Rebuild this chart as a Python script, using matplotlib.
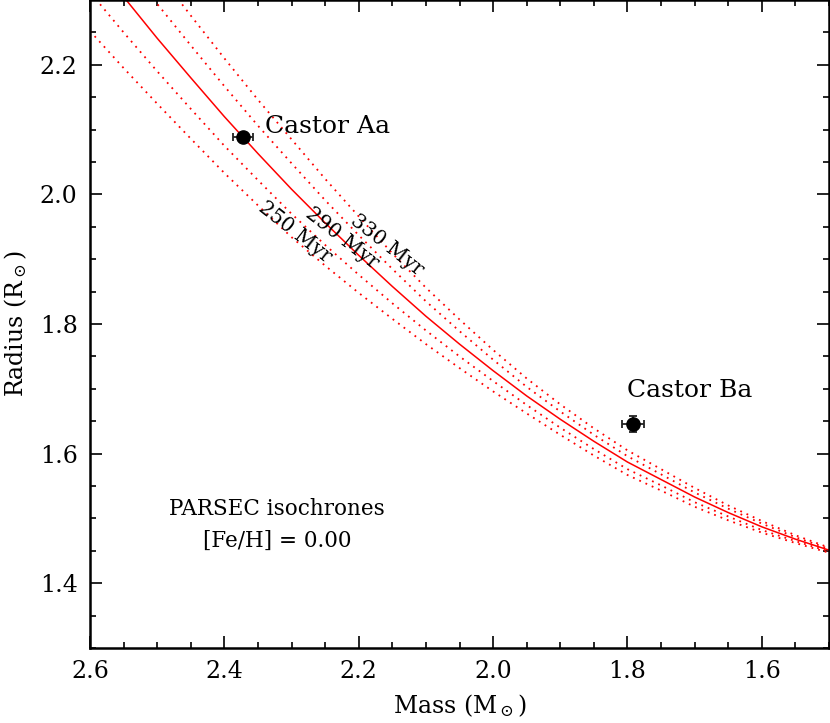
import matplotlib
matplotlib.use("Agg")
import matplotlib.pyplot as plt
from matplotlib.ticker import MultipleLocator, FormatStrFormatter

plt.rcParams['font.family'] = ['DejaVu Serif']
plt.rcParams['mathtext.fontset'] = 'dejavuserif'

# Isochrone mass grid and radii
mass_grid = [2.6, 2.55, 2.5, 2.45, 2.4, 2.35, 2.3, 2.25, 2.2, 2.15, 2.1, 2.05,
             2.0, 1.95, 1.9, 1.85, 1.8, 1.75, 1.7, 1.65, 1.6, 1.55, 1.5]
r_250 = [2.252, 2.195, 2.140, 2.086, 2.033, 1.983, 1.934, 1.890, 1.848, 1.808, 1.769, 1.732,
         1.696, 1.662, 1.629, 1.597, 1.567, 1.543, 1.518, 1.497, 1.478, 1.462, 1.447]
r_270 = [2.312, 2.250, 2.190, 2.132, 2.075, 2.022, 1.970, 1.922, 1.876, 1.832, 1.790, 1.750,
         1.712, 1.675, 1.640, 1.607, 1.576, 1.551, 1.525, 1.503, 1.482, 1.465, 1.449]
r_290 = [2.372, 2.305, 2.241, 2.180, 2.120, 2.063, 2.008, 1.956, 1.906, 1.858, 1.812, 1.769,
         1.728, 1.689, 1.653, 1.619, 1.587, 1.560, 1.533, 1.509, 1.487, 1.468, 1.451]
r_310 = [2.434, 2.362, 2.294, 2.230, 2.167, 2.106, 2.048, 1.991, 1.937, 1.885, 1.835, 1.789,
         1.745, 1.703, 1.665, 1.629, 1.596, 1.568, 1.540, 1.515, 1.492, 1.471, 1.453]
r_330 = [2.492, 2.415, 2.343, 2.276, 2.210, 2.146, 2.085, 2.024, 1.966, 1.909, 1.856, 1.807,
         1.760, 1.716, 1.676, 1.639, 1.605, 1.576, 1.547, 1.520, 1.496, 1.474, 1.455]

# Stars
star_names = ["Castor Aa", "Castor Ba"]
star_mass = [2.372, 1.792]
star_mass_err = [0.015, 0.016]
star_radius = [2.088, 1.646]
star_radius_err = [0.005, 0.012]

# Label positions
age_labels = ["250 Myr", "290 Myr", "330 Myr"]
age_label_mass = [2.295, 2.225, 2.158]
age_label_radius = [1.941, 1.933, 1.921]

fig = plt.figure(figsize=(8.30, 7.23), dpi=100)
ax = fig.add_axes([90/830, 75/723, 739/830, 648/723])

red = '#ff0000'
dot = (0, (1, 2.8))
for r in (r_250, r_270, r_310, r_330):
    ax.plot(mass_grid, r, color=red, lw=1.3, linestyle=dot)
ax.plot(mass_grid, r_290, color=red, lw=1.1, linestyle='-')

ax.errorbar(star_mass, star_radius, xerr=star_mass_err, yerr=star_radius_err,
            fmt='o', color='black', ms=9.5, ecolor='#222222', elinewidth=1.3,
            capsize=3, capthick=1.3, zorder=5)

ax.text(2.340, 2.105, star_names[0], fontsize=18, ha='left', va='center')
ax.text(1.800, 1.697, star_names[1], fontsize=18, ha='left', va='center')

for lab, m, r in zip(age_labels, age_label_mass, age_label_radius):
    ax.text(m, r, lab, fontsize=14.5, rotation=-38, ha='center', va='center',
            rotation_mode='anchor')

ax.text(2.322, 1.490, "PARSEC isochrones\n[Fe/H] = 0.00", fontsize=15.5,
        ha='center', va='center', multialignment='center', linespacing=1.55)

ax.set_xlim(2.6, 1.5)
ax.set_ylim(1.3, 2.3)
ax.xaxis.set_major_locator(MultipleLocator(0.2))
ax.xaxis.set_minor_locator(MultipleLocator(0.05))
ax.yaxis.set_major_locator(MultipleLocator(0.2))
ax.yaxis.set_minor_locator(MultipleLocator(0.05))
ax.xaxis.set_major_formatter(FormatStrFormatter('%.1f'))
ax.yaxis.set_major_formatter(FormatStrFormatter('%.1f'))
ax.tick_params(which='both', direction='in', top=True, right=True, width=1.2,
               labelsize=17)
ax.tick_params(which='major', length=8.5)
ax.tick_params(which='minor', length=4.3)
ax.tick_params(axis='x', pad=9)
ax.tick_params(axis='y', pad=9)
for s in ax.spines.values():
    s.set_linewidth(1.8)

ax.set_xlabel(r"Mass (M$_\odot$)", fontsize=17, labelpad=6)
ax.set_ylabel(r"Radius (R$_\odot$)", fontsize=17, labelpad=8)

fig.savefig("out.png", dpi=100)
